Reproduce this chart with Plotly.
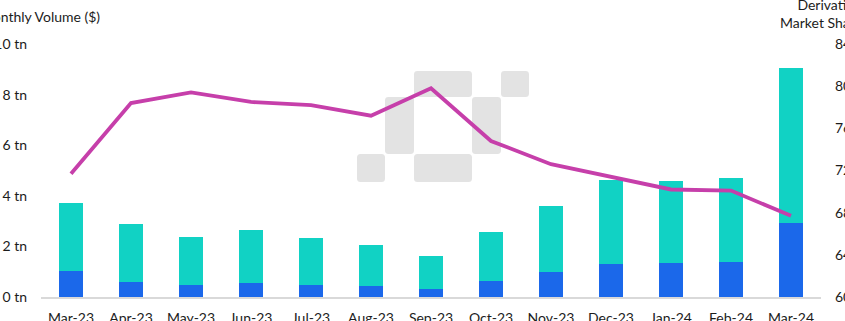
import plotly.graph_objects as go

months = ["Mar-23", "Apr-23", "May-23", "Jun-23", "Jul-23", "Aug-23", "Sep-23",
          "Oct-23", "Nov-23", "Dec-23", "Jan-24", "Feb-24", "Mar-24"]
total_tn = [3.71, 2.90, 2.37, 2.65, 2.32, 2.07, 1.64, 2.55, 3.61, 4.63, 4.58, 4.69, 9.07]
spot_tn = [1.04, 0.60, 0.46, 0.54, 0.48, 0.43, 0.30, 0.63, 0.97, 1.30, 1.34, 1.39, 2.91]
deriv_tn = [round(t - s, 2) for t, s in zip(total_tn, spot_tn)]
deriv_share = [71.7, 78.4, 79.4, 78.5, 78.2, 77.2, 79.8, 74.8, 72.6, 71.4, 70.2, 70.1, 67.7]

left_ticks = [0, 2, 4, 6, 8, 10]
left_labels = [f"{v} tn" for v in left_ticks]
right_ticks = [60, 64, 68, 72, 76, 80, 84]

W, H = 845, 321
L, R, T, B = 41, 24, 44, 24
PW, PH = W - L - R, H - T - B

FONT = "Lato, Noto Sans, sans-serif"
TXT = "#1c1c1c"

fig = go.Figure()
fig.add_trace(go.Bar(x=months, y=spot_tn, name="Spot", marker=dict(color="#1B68EA", line=dict(width=0)), yaxis="y"))
fig.add_trace(go.Bar(x=months, y=deriv_tn, name="Derivatives", marker=dict(color="#11D2C4", line=dict(width=0)), yaxis="y"))
fig.add_trace(go.Scatter(x=months, y=deriv_share, name="Derivatives Market Share", mode="lines",
                         line=dict(color="#C63FAA", width=3.8), yaxis="y2"))


def px2paper(x, y):
    return (x - L) / PW, (H - B - y) / PH


def rrect(x0, y0, x1, y1, r=3.5):
    def P(x, y):
        a, b = px2paper(x, y)
        return f"{a:.5f},{b:.5f}"
    path = (f"M {P(x0 + r, y0)} L {P(x1 - r, y0)} Q {P(x1, y0)} {P(x1, y0 + r)} "
            f"L {P(x1, y1 - r)} Q {P(x1, y1)} {P(x1 - r, y1)} "
            f"L {P(x0 + r, y1)} Q {P(x0, y1)} {P(x0, y1 - r)} "
            f"L {P(x0, y0 + r)} Q {P(x0, y0)} {P(x0 + r, y0)} Z")
    return dict(type="path", path=path, xref="paper", yref="paper",
                fillcolor="#E3E3E3", line=dict(width=0), layer="below")

blocks = [(414, 71, 472, 97), (501, 71, 529, 97), (385, 97, 414, 154),
          (472, 97, 501, 154), (414, 154, 472, 182), (357, 154, 385, 182)]
shapes = [rrect(*b) for b in blocks]

ax, ay = px2paper(102, 17)
bx, by = px2paper(832, 13)

fig.update_layout(
    width=W, height=H,
    margin=dict(l=L, r=R, t=T, b=B, autoexpand=False),
    paper_bgcolor="white", plot_bgcolor="white",
    barmode="stack", bargap=0.6,
    showlegend=False,
    font=dict(family=FONT, size=14, color=TXT),
    xaxis=dict(showgrid=False, showline=True, linecolor="#D9D9D9", linewidth=1.5,
               ticks="", ticklabelstandoff=7, automargin=False,
               tickfont=dict(size=14, color=TXT)),
    yaxis=dict(range=[0, 10], tickvals=left_ticks, ticktext=left_labels, showgrid=False,
               zeroline=False, showline=False, ticks="", ticklabelstandoff=13,
               automargin=False, tickfont=dict(size=14, color=TXT)),
    yaxis2=dict(range=[60, 84], tickvals=right_ticks, ticksuffix="%", overlaying="y", side="right",
                showgrid=False, zeroline=False, showline=False, ticks="", ticklabelstandoff=13,
                automargin=False, tickfont=dict(size=14, color=TXT)),
    shapes=shapes,
    annotations=[
        dict(text="Monthly Volume ($)", xref="paper", yref="paper", x=ax, y=ay,
             xanchor="right", yanchor="middle", showarrow=False, font=dict(size=14, color=TXT)),
        dict(text="Derivatives<br>Market Share (%)", xref="paper", yref="paper", x=bx, y=by,
             xanchor="center", yanchor="middle", align="center", showarrow=False,
             font=dict(size=14, color=TXT)),
    ],
)

fig.write_html("out.html")
